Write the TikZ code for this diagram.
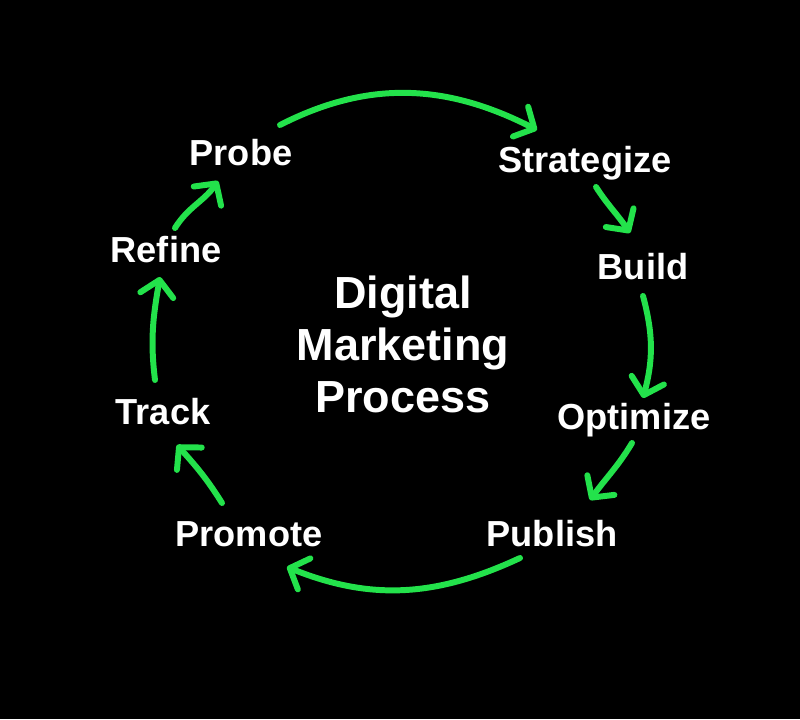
\documentclass[tikz,border=0pt]{standalone}
\usepackage{fontspec}
\setmainfont{Liberation Sans}
\usepackage{tikz}
\usetikzlibrary{arrows.meta,calc}

\definecolor{arrowgreen}{RGB}{35,226,75}

\begin{document}
\begin{tikzpicture}[
		lbl/.style={white, font=\fontsize{10.3}{12}\selectfont\bfseries, anchor=base, inner sep=0pt},
		arr/.style={arrowgreen, line width=1.7pt, line cap=round, line join=round,
			-{Straight Barb[length=4.4pt, width=9.5pt, line cap=round, line join=round]}}]
			\fill[black] (0, 0) rectangle (8, 7.19);
			\useasboundingbox (0, 0) rectangle (8, 7.19);

			\node[lbl] (probe) at (2.41, 5.53) {Probe};
			\node[lbl] (strategize) at (5.85, 5.46) {Strategize};
			\node[lbl] (build) at (6.43, 4.39) {Build};
			\node[lbl] (optimize) at (6.34, 2.89) {Optimize};
			\node[lbl] (publish) at (5.52, 1.72) {Publish};
			\node[lbl] (promote) at (2.49, 1.72) {Promote};
			\node[lbl] (track) at (1.63, 2.94) {Track};
			\node[lbl] (refine) at (1.66, 4.56) {Refine};

			\node[white, font=\fontsize{12.8}{14.8}\selectfont\bfseries, align=center] (title) at (4.03, 3.75) {Digital\\Marketing\\Process};

			\draw[arr] ($(probe.base)+(0.39, 0.41)$) to[out=27, in=153] ($(strategize.base)+(-0.48, 0.43)$);
			\draw[arr] ($(strategize.base)+(0.11, -0.14)$) to[out=-57, in=124] ($(build.base)+(-0.13, 0.47)$);
			\draw[arr] ($(build.base)+(0, -0.16)$) to[out=-75, in=75] ($(optimize.base)+(0.09, 0.32)$);
			\draw[arr] ($(optimize.base)+(-0.02, -0.13)$) to[out=-121, in=54] ($(publish.base)+(0.38, 0.47)$);
			\draw[arr] ($(publish.base)+(-0.32, -0.11)$) to[out=-155, in=-22] ($(promote.base)+(0.38, -0.20)$);
			\draw[arr] ($(promote.base)+(-0.27, 0.44)$) to[out=122, in=-48] ($(track.base)+(0.14, -0.20)$);
			\draw[arr] ($(track.base)+(-0.08, 0.45)$) to[out=97, in=-100] ($(refine.base)+(-0.06, -0.14)$);
			\draw[arr] ($(refine.base)+(0.09, 0.35)$) to[out=58, in=-125] ($(probe.base)+(-0.23, -0.15)$);
		\end{tikzpicture}
\end{document}
